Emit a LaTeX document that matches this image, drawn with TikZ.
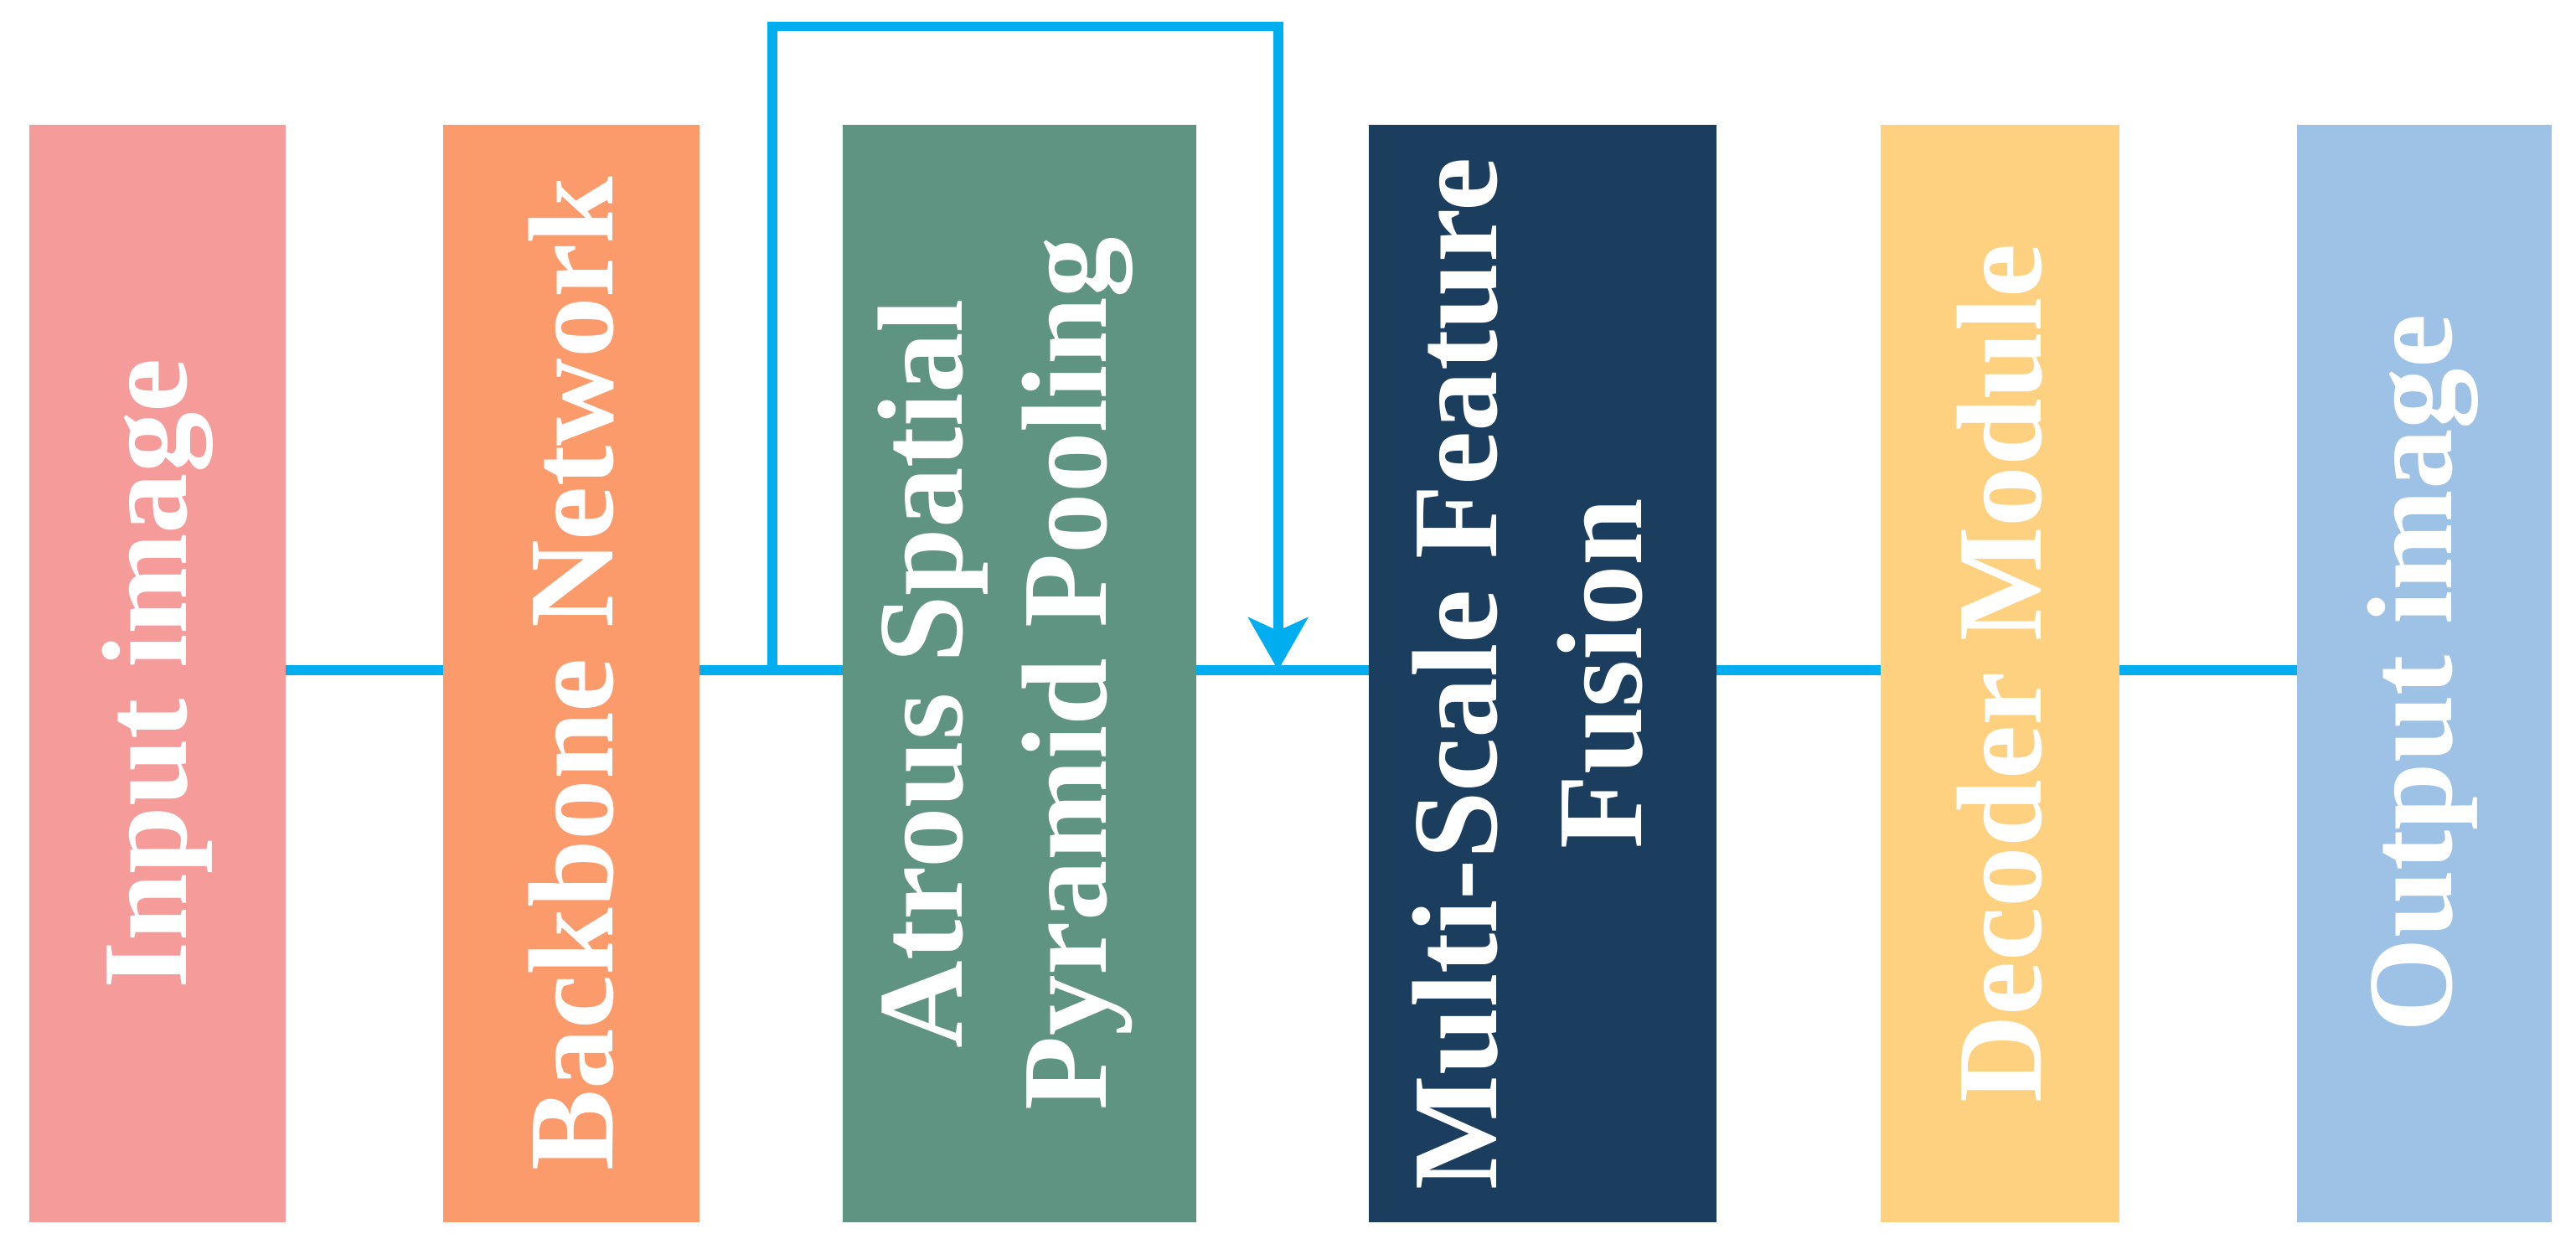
\documentclass[tikz,border=0pt]{standalone}
\usepackage{fontspec}
\setmainfont{Liberation Serif}
\usetikzlibrary{arrows.meta}
\definecolor{cin}{HTML}{F59C9B}
\definecolor{cbb}{HTML}{FB9A6B}
\definecolor{cas}{HTML}{609482}
\definecolor{cms}{HTML}{1B3D5E}
\definecolor{cde}{HTML}{FDD17F}
\definecolor{cou}{HTML}{9DC2E5}
\definecolor{cline}{HTML}{00AEEF}
\begin{document}
\begin{tikzpicture}[x=0.01cm,y=-0.01cm,
  blk/.style={inner sep=0,outer sep=0,draw=none},
  lbl/.style={rotate=90,text=white,font=\bfseries\fontsize{21}{25}\selectfont,align=center},
  conn/.style={draw=cline,line width=1.7pt}]
\useasboundingbox (0,0) rectangle (1568,754);
\fill[cin] (18,76) rectangle (174,744); \node[blk] (a) at (96,410) {}; \coordinate (ae) at (174,408);
\fill[cbb] (270,76) rectangle (426,744); \coordinate (bw) at (270,408); \coordinate (be) at (426,408);
\fill[cas] (513,76) rectangle (728,744); \coordinate (cw) at (513,408); \coordinate (ce) at (728,408);
\fill[cms] (833,76) rectangle (1045,744); \coordinate (dw) at (833,408); \coordinate (de) at (1045,408);
\fill[cde] (1145,76) rectangle (1290,744); \coordinate (ew) at (1145,408); \coordinate (ee) at (1290,408);
\fill[cou] (1398,76) rectangle (1553,744); \coordinate (fw) at (1398,408);
\node[lbl] (ta) at (96,410) {Input image};
\node[lbl] (tb) at (348,410) {Backbone Network};
\node[lbl] (tc) at (612,410) {Atrous Spatial\\Pyramid Pooling};
\node[lbl] (td) at (930,410) {Multi-Scale Feature\\Fusion};
\node[lbl] (te) at (1217,410) {Decoder Module};
\node[lbl] (tf) at (1475,410) {Output image};
\draw[conn] (ae) -- (bw);
\draw[conn] (be) -- (cw);
\draw[conn] (ce) -- (dw);
\draw[conn] (de) -- (ew);
\draw[conn] (ee) -- (fw);
\coordinate (ls) at (470,408);
\coordinate (lt) at (778,408);
\draw[conn,-{Stealth[length=0.32cm,width=0.36cm,inset=0.08cm]}] (ls) -- (470,16) -- (778,16) -- (lt);
\end{tikzpicture}
\end{document}
